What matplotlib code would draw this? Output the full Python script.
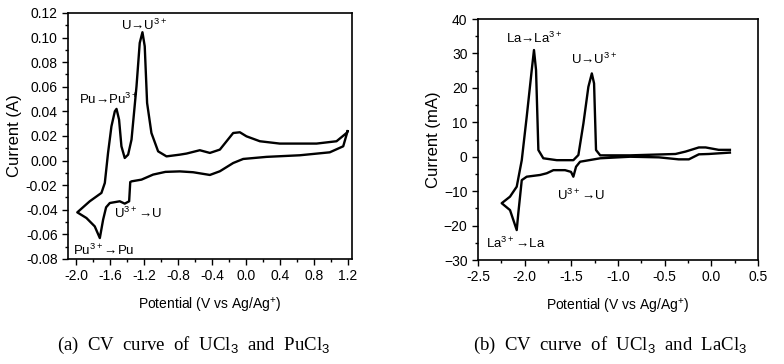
import matplotlib
matplotlib.use("Agg")
import matplotlib.pyplot as plt
from matplotlib.ticker import MultipleLocator, FormatStrFormatter

plt.rcParams['font.family'] = ['Liberation Sans', 'DejaVu Sans']
plt.rcParams['mathtext.fontset'] = 'custom'
plt.rcParams['mathtext.rm'] = 'Liberation Sans'

# (a) UCl3 + PuCl3, current in A  (cathodic sweep from 1.2 V, then anodic back)
a_x = [1.2, 1.149, 0.99, 0.637, 0.244, -0.032, -0.15, -0.307, -0.425, -0.622,
       -0.78, -0.95, -1.095, -1.232, -1.35, -1.365, -1.378, -1.43, -1.489, -1.606,
       -1.65, -1.685, -1.724, -1.784, -1.882, -1.99,
       -1.843, -1.705, -1.665, -1.627, -1.587, -1.547, -1.527, -1.497, -1.469, -1.43,
       -1.39, -1.35, -1.291, -1.253, -1.221, -1.194, -1.166, -1.115, -1.036, -0.937,
       -0.78, -0.70, -0.544, -0.425, -0.307, -0.15, -0.071, 0.007, 0.165, 0.40,
       0.834, 1.07, 1.19, 1.2]
a_y = [0.0238, 0.0116, 0.0067, 0.0043, 0.003, 0.0013, -0.002, -0.0087, -0.0117, -0.0095,
       -0.0088, -0.0092, -0.0114, -0.0155, -0.0169, -0.0175, -0.0331, -0.035, -0.0331, -0.0345,
       -0.038, -0.048, -0.063, -0.0535, -0.0467, -0.0421,
       -0.0331, -0.0263, -0.0182, 0.0062, 0.0278, 0.04, 0.042, 0.0333, 0.0116, 0.0021,
       0.0048, 0.017, 0.0604, 0.0956, 0.1043, 0.0929, 0.0468, 0.0224, 0.0075, 0.0034,
       0.0048, 0.0057, 0.0084, 0.0062, 0.0089, 0.0224, 0.023, 0.0197, 0.0157, 0.0138,
       0.0138, 0.0157, 0.0225, 0.0238]

# (b) UCl3 + LaCl3, current in mA
b_x = [0.2, -0.026, -0.133, -0.24, -0.35, -0.56, -0.87, -1.19, -1.406, -1.449,
       -1.478, -1.503, -1.567, -1.692, -1.763, -1.835, -1.978, -2.031, -2.068, -2.085,
       -2.121, -2.157, -2.246,
       -2.157, -2.085, -2.031, -1.978, -1.924, -1.9, -1.878, -1.853, -1.8, -1.656,
       -1.478, -1.424, -1.37, -1.317, -1.28, -1.256, -1.235, -1.19, -0.87, -0.383,
       -0.275, -0.133, -0.06, 0.08, 0.2]
b_y = [1.2, 0.8, 0.7, -0.76, -0.76, -0.18, 0.0, -0.45, -1.45, -2.9,
       -5.8, -4.4, -3.9, -3.9, -4.8, -5.3, -5.8, -6.8, -16.4, -21.3,
       -18.4, -15.5, -13.5,
       -11.6, -8.7, -1.0, 11.6, 25.2, 31.0, 25.2, 1.95, -0.45, -1.0,
       -1.0, 0.5, 9.7, 20.3, 24.2, 21.3, 1.95, 0.4, 0.4, 0.8,
       1.5, 2.7, 2.7, 2.0, 2.0]

a_ticks = [-2.0, -1.6, -1.2, -0.8, -0.4, 0.0, 0.4, 0.8, 1.2]
b_ticks = [-2.5, -2.0, -1.5, -1.0, -0.5, 0.0, 0.5]


def style_axes(ax):
    for s in ax.spines.values():
        s.set_linewidth(1.2)
    ax.tick_params(which='both', direction='out', top=False, right=False,
                   labelsize=10, width=1)
    ax.tick_params(which='major', length=4)
    ax.tick_params(which='minor', length=2.5)


fig = plt.figure(figsize=(7.84, 3.64), dpi=100)

ax1 = fig.add_axes([0.0867, 0.2885, 0.362, 0.676])
ax1.plot(a_x, a_y, color='black', lw=1.7, solid_joinstyle='round')
ax1.set_xlim(-2.1, 1.25)
ax1.set_ylim(-0.08, 0.12)
ax1.set_xticks(a_ticks)
ax1.set_xticklabels([f"{t:.1f}" for t in a_ticks])
ax1.xaxis.set_minor_locator(MultipleLocator(0.2))
ax1.yaxis.set_major_locator(MultipleLocator(0.02))
ax1.yaxis.set_minor_locator(MultipleLocator(0.01))
ax1.yaxis.set_major_formatter(FormatStrFormatter('%.2f'))
style_axes(ax1)
ax1.set_ylabel('Current (A)', fontsize=12, labelpad=3)
ax1.set_xlabel('Potential (V vs Ag/Ag$^{+}$)', fontsize=10, labelpad=9)
ax1.text(-1.2, 0.106, 'U→U$^{3+}$', fontsize=9.5, ha='center')
ax1.text(-1.62, 0.046, 'Pu→Pu$^{3+}$', fontsize=9.5, ha='center')
ax1.text(-1.27, -0.047, 'U$^{3+}$→U', fontsize=9.5, ha='center')
ax1.text(-1.68, -0.077, 'Pu$^{3+}$→Pu', fontsize=9.5, ha='center')

ax2 = fig.add_axes([0.6097, 0.2857, 0.357, 0.662])
ax2.plot(b_x, b_y, color='black', lw=1.7, solid_joinstyle='round')
ax2.set_xlim(-2.5, 0.5)
ax2.set_ylim(-30, 40)
ax2.set_xticks(b_ticks)
ax2.set_xticklabels([f"{t:.1f}" for t in b_ticks])
ax2.xaxis.set_minor_locator(MultipleLocator(0.25))
ax2.yaxis.set_major_locator(MultipleLocator(10))
ax2.yaxis.set_minor_locator(MultipleLocator(5))
style_axes(ax2)
ax2.set_ylabel('Current (mA)', fontsize=12, labelpad=2)
ax2.set_xlabel('Potential (V vs Ag/Ag$^{+}$)', fontsize=10, labelpad=9)
ax2.text(-1.9, 33, 'La→La$^{3+}$', fontsize=9.5, ha='center')
ax2.text(-1.25, 27, 'U→U$^{3+}$', fontsize=9.5, ha='center')
ax2.text(-1.4, -12.5, 'U$^{3+}$→U', fontsize=9.5, ha='center')
ax2.text(-2.1, -26.5, 'La$^{3+}$→La', fontsize=9.5, ha='center')

cap_font = ['Liberation Serif', 'DejaVu Serif']
fig.text(0.247, 0.052, '(a)  CV  curve  of  UCl$_3$  and  PuCl$_3$',
         family=cap_font, fontsize=13.5, ha='center', va='center')
fig.text(0.778, 0.052, '(b)  CV  curve  of  UCl$_3$  and  LaCl$_3$',
         family=cap_font, fontsize=13.5, ha='center', va='center')

fig.savefig('out.png', dpi=100)
